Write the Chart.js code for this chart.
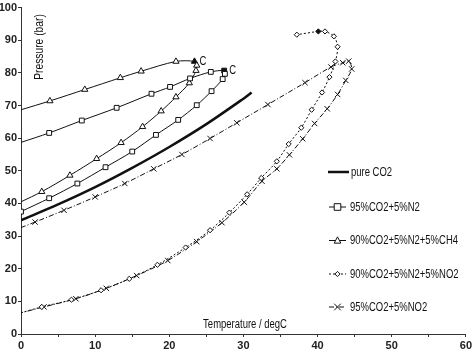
<!DOCTYPE html>
<html>
<head>
<meta charset="utf-8">
<script src="https://cdn.jsdelivr.net/npm/chart.js@4/dist/chart.umd.min.js"></script>
<style>
  html, body { margin: 0; padding: 0; background: #fff; }
  #wrap { width: 474px; height: 353px; }
</style>
</head>
<body>
<div id="wrap"><canvas id="phaseChart" width="474" height="353"></canvas></div>
<script>
// series names (legend order)
const seriesNames = ['pure CO2', '95%CO2+5%N2', '90%CO2+5%N2+5%CH4', '90%CO2+5%N2+5%NO2', '95%CO2+5%NO2'];

// pure CO2 vapour pressure curve
const co2Temp = [0, 5, 10, 15, 20, 25, 30, 31.1];
const co2Pres = [34.85, 39.7, 45.0, 50.9, 57.3, 64.3, 72.1, 74.0];

// 95%CO2+5%N2 (upper branch -> C -> lower branch)
const n2Temp = [0, 3.8, 8.2, 12.9, 17.6, 20.1, 22.8, 25.6, 27.4, 27.5, 27.2, 25.7, 23.7, 21.2, 18.2, 15.0, 11.4, 7.6, 3.8, 0];
const n2Pres = [58.7, 61.6, 65.4, 69.3, 73.6, 75.7, 78.3, 80.3, 80.7, 79.7, 78.1, 74.4, 70.1, 65.6, 61.0, 55.9, 51.1, 46.1, 41.6, 37.5];

// 90%CO2+5%N2+5%CH4
const ch4Temp = [0, 3.9, 8.6, 13.4, 16.2, 20.9, 23.4, 23.7, 23.6, 22.7, 20.9, 18.9, 16.4, 13.5, 10.2, 6.6, 2.8, 0];
const ch4Pres = [68.7, 71.4, 74.9, 78.5, 80.5, 83.5, 83.5, 82.3, 80.7, 76.9, 72.6, 68.3, 63.5, 58.6, 53.7, 48.6, 43.6, 40.5];

// 90%CO2+5%N2+5%NO2
const n2no2Temp = [0, 2.8, 6.8, 10.8, 14.6, 18.4, 22.2, 25.5, 28.1, 30.5, 32.4, 34.5, 36.1, 37.8, 39.2, 40.6, 41.6, 42.4, 42.7, 42.2, 41.0, 40.1, 37.2];
const n2no2Pres = [6.5, 8.3, 10.5, 13.4, 16.9, 21.2, 26.5, 31.8, 37.2, 42.8, 47.8, 52.9, 58.2, 63.2, 68.7, 74.0, 78.7, 83.5, 88.0, 91.2, 92.7, 92.7, 91.7];

// 95%CO2+5%NO2
const no2Temp = [0, 1.9, 5.8, 10.0, 14.0, 17.9, 21.7, 25.5, 29.1, 33.3, 38.3, 41.8, 43.4, 44.2, 44.6, 43.8, 42.7, 41.3, 39.6, 38.0, 36.2, 34.5, 32.5, 30.1, 27.1, 23.7, 19.8, 15.6, 11.5, 7.4, 3.1, 0];
const no2Pres = [32.6, 34.3, 37.9, 42.0, 46.1, 50.6, 55.0, 59.9, 64.7, 70.3, 77.0, 81.8, 83.1, 83.6, 81.2, 77.7, 73.4, 69.0, 64.5, 59.8, 54.9, 50.6, 46.8, 40.4, 34.1, 28.3, 22.5, 17.9, 14.0, 10.8, 8.3, 6.5];

// index of the critical point (filled marker) in each mixture series
const critIndex = [-1, 8, 6, 21, 12];

const xTicks = [0, 10, 20, 30, 40, 50, 60];
const yTicks = [0, 10, 20, 30, 40, 50, 60, 70, 80, 90, 100];

function pts(t, p){
  return t.map((v, i) => ({x: v, y: p[i]}));
}

const ink = '#111';

function mixSet(k, t, p, style, rad, dash){
  const last = t.length - 1;
  return {
    label: seriesNames[k],
    data: pts(t, p),
    showLine: true,
    borderColor: ink,
    borderWidth: 1,
    borderDash: dash,
    tension: 0.3,
    pointStyle: style,
    pointRadius: ctx => (ctx.dataIndex === 0 || (ctx.dataIndex === last && t[last] === 0 && k !== 1)) ? 0 : rad,
    pointBorderColor: ink,
    pointBorderWidth: 1,
    pointBackgroundColor: ctx => ctx.dataIndex === critIndex[k] ? ink : '#fff'
  };
}

const datasets = [
  {
    label: seriesNames[0],
    data: pts(co2Temp, co2Pres),
    showLine: true,
    borderColor: ink,
    borderWidth: 2.5,
    tension: 0.3,
    pointRadius: 0
  },
  mixSet(1, n2Temp, n2Pres, 'rect', 3.4, []),
  mixSet(2, ch4Temp, ch4Pres, 'triangle', 3.6, []),
  mixSet(3, n2no2Temp, n2no2Pres, 'rectRot', 2.6, [2, 2]),
  mixSet(4, no2Temp, no2Pres, 'crossRot', 3.8, [5, 2, 1, 2])
];

let squeeze = 1;
function narrow(ctx, text, x, y, align){
  ctx.save();
  ctx.translate(x, y);
  ctx.scale(squeeze, 1);
  ctx.textAlign = align || 'left';
  ctx.fillText(text, 0, 0);
  ctx.restore();
}

function drawMarker(ctx, style, x, y, r){
  ctx.save();
  ctx.lineWidth = 1;
  ctx.strokeStyle = ink;
  ctx.fillStyle = '#fff';
  ctx.setLineDash([]);
  ctx.beginPath();
  if (style === 'rect'){
    ctx.rect(x - r, y - r, 2 * r, 2 * r);
    ctx.fill(); ctx.stroke();
  } else if (style === 'triangle'){
    ctx.moveTo(x, y - r * 1.1);
    ctx.lineTo(x + r, y + r * 0.8);
    ctx.lineTo(x - r, y + r * 0.8);
    ctx.closePath();
    ctx.fill(); ctx.stroke();
  } else if (style === 'rectRot'){
    ctx.moveTo(x, y - r); ctx.lineTo(x + r, y); ctx.lineTo(x, y + r); ctx.lineTo(x - r, y);
    ctx.closePath();
    ctx.fill(); ctx.stroke();
  } else if (style === 'crossRot'){
    ctx.moveTo(x - r, y - r); ctx.lineTo(x + r, y + r);
    ctx.moveTo(x + r, y - r); ctx.lineTo(x - r, y + r);
    ctx.stroke();
  }
  ctx.restore();
}

const annotations = {
  id: 'annotations',
  afterDraw(chart){
    const ctx = chart.ctx;
    const xs = chart.scales.x, ys = chart.scales.y;
    ctx.save();
    ctx.fillStyle = ink;
    ctx.textBaseline = 'middle';
    ctx.font = '12px Arial, "Liberation Sans", sans-serif';
    squeeze = 108 / ctx.measureText(seriesNames[2]).width;

    // axis titles inside the plot
    narrow(ctx, 'Temperature / degC', 245, 325, 'center');
    ctx.save();
    ctx.translate(39, 47);
    ctx.rotate(-Math.PI / 2);
    ctx.font = '13px Arial, "Liberation Sans", sans-serif';
    ctx.scale(squeeze, 1);
    ctx.textAlign = 'center';
    ctx.fillText('Pressure (bar)', 0, 0);
    ctx.restore();

    // "C" critical point labels
    ctx.font = '12px Arial, "Liberation Sans", sans-serif';
    [[2, ch4Temp, ch4Pres], [1, n2Temp, n2Pres]].forEach(([k, t, p]) => {
      const i = critIndex[k];
      narrow(ctx, 'C', xs.getPixelForValue(t[i]) + 5, ys.getPixelForValue(p[i]) + 0.5);
    });

    // legend
    const rowsY = [172, 207, 240.5, 274, 307];
    const styles = [null, 'rect', 'triangle', 'rectRot', 'crossRot'];
    chart.data.datasets.forEach((ds, k) => {
      const y = rowsY[k];
      ctx.save();
      ctx.strokeStyle = ink;
      ctx.lineWidth = ds.borderWidth;
      ctx.setLineDash(ds.borderDash || []);
      ctx.beginPath();
      ctx.moveTo(k === 0 ? 328 : 329, y);
      ctx.lineTo(k === 0 ? 349 : 346, y);
      ctx.stroke();
      ctx.restore();
      if (styles[k]) drawMarker(ctx, styles[k], 337.5, y, k === 3 ? 2.6 : 3.3);
      ctx.fillStyle = ink;
      ctx.font = '12px Arial, "Liberation Sans", sans-serif';
      narrow(ctx, ds.label, k === 0 ? 351 : 350, y + 0.5);
    });
    ctx.restore();
  }
};

new Chart(document.getElementById('phaseChart'), {
  type: 'scatter',
  data: { datasets: datasets },
  plugins: [annotations],
  options: {
    responsive: false,
    animation: false,
    layout: { padding: { top: 5, right: 6, left: 0, bottom: 0 } },
    plugins: {
      legend: { display: false },
      tooltip: { enabled: false }
    },
    scales: {
      x: {
        type: 'linear',
        min: 0,
        max: 60,
        afterFit: s => { s.height = 19; },
        afterBuildTicks: s => { s.ticks = [0, 5, 10, 15, 20, 25, 30, 35, 40, 45, 50, 55, 60].map(v => ({value: v})); },
        border: { color: '#333', width: 1 },
        grid: { drawOnChartArea: false, tickLength: 3, color: '#333' },
        ticks: {
          color: '#222',
          padding: 2,
          maxRotation: 0,
          font: { family: 'Arial, "Liberation Sans", sans-serif', size: 11, weight: 'bold' },
          callback: v => xTicks.includes(v) ? String(v) : ''
        }
      },
      y: {
        type: 'linear',
        min: 0,
        max: 100,
        afterFit: s => { s.width = 21; },
        afterBuildTicks: s => { s.ticks = yTicks.map(v => ({value: v})); },
        border: { color: '#333', width: 1 },
        grid: { drawOnChartArea: false, tickLength: 3, color: '#333' },
        ticks: {
          color: '#222',
          padding: 1,
          font: { family: 'Arial, "Liberation Sans", sans-serif', size: 11, weight: 'bold' }
        }
      }
    }
  }
});
</script>
</body>
</html>
